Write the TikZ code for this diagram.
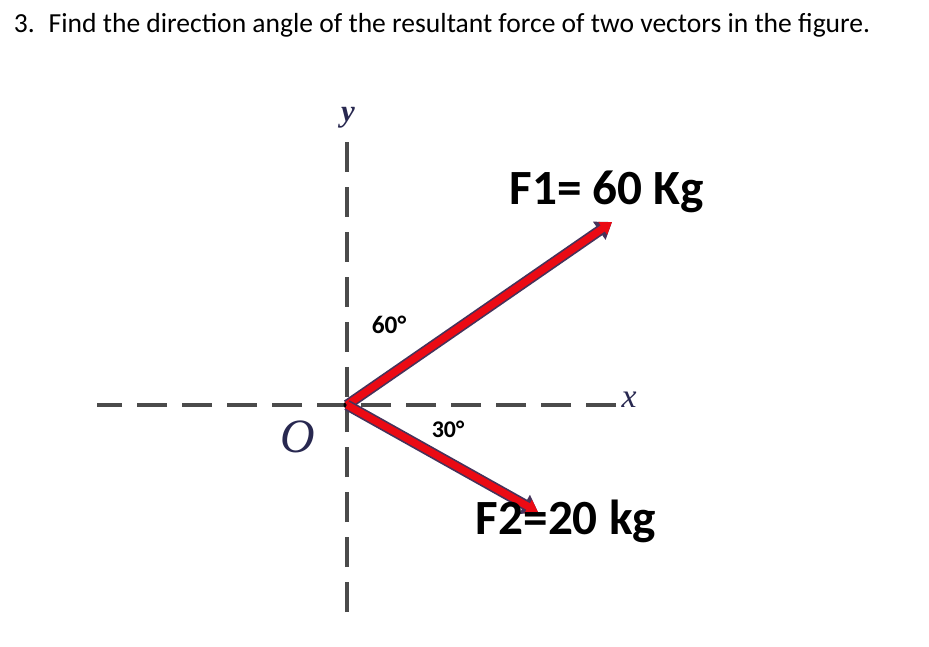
\documentclass[tikz,border=0pt]{standalone}
\usepackage{fontspec}
\setmainfont{Carlito}
\newfontfamily\axisfont{Liberation Serif}
\usetikzlibrary{arrows.meta}
\definecolor{axisgray}{RGB}{75,75,75}
\definecolor{labelnavy}{RGB}{40,40,80}
\definecolor{forcered}{RGB}{235,10,20}
\definecolor{forceedge}{RGB}{70,50,90}

\begin{document}
\begin{tikzpicture}[x=0.025cm,y=-0.025cm]
        \tikzstyle{axis}=[axisgray,line width=2.6pt,dash pattern=on 21pt off 11pt]
        \tikzstyle{forceedgeline}=[forceedge,line width=7.6pt,-{Triangle[length=11pt,width=15pt]}]
        \tikzstyle{forceline}=[forcered,line width=5.2pt,-{Triangle[length=8pt,width=10.5pt]}]
        \tikzstyle{axislabel}=[labelnavy,font=\fontsize{24}{26}\selectfont\axisfont\itshape]
        \tikzstyle{anglelabel}=[font=\fontsize{18}{20}\selectfont\bfseries]
        \tikzstyle{forcelabel}=[font=\fontsize{35}{37}\selectfont\bfseries]
        \useasboundingbox (0,0) rectangle (929,646);
        % title
        \node [anchor=west,font=\fontsize{19.6}{21}\selectfont] (title) at (9,25) {3.\enspace Find the direction angle of the resultant force of two vectors in the figure.};
        % axes
        \coordinate (O) at (347,405);
        \coordinate (ytop) at (347,142);
        \coordinate (ybot) at (347,612);
        \coordinate (xleft) at (97,405);
        \coordinate (xright) at (616,405);
        \draw [axis] (ytop) -- (O);
        \draw [axis] (ybot) -- (O);
        \draw [axis] (xright) -- (O);
        \draw [axis] (O) -- (xleft);
        \node [axislabel,font=\fontsize{22}{24}\selectfont\axisfont\itshape\bfseries] (ylab) at (348,118) {y};
        \node [axislabel] (xlab) at (629,400) {x};
        \node [axislabel,font=\fontsize{34}{36}\selectfont\axisfont\itshape] (olab) at (298,437) {O};
        \fill [black] (O) circle (2.5pt);
        % forces
        \coordinate (F1) at (612,222);
        \coordinate (F2) at (538,512);
        \draw [forceedgeline] (O) -- (F1);
        \draw [forceline] (O) -- (F1);
        \draw [forceedgeline] (O) -- (F2);
        \draw [forceline] (O) -- (F2);
        % labels
        \node [anglelabel] (a60) at (389,325) {60°};
        \node [anglelabel,font=\fontsize{17}{19}\selectfont\bfseries] (a30) at (448,429) {30°};
        \node [forcelabel] (f1lab) at (607,192) {F1= 60 Kg};
        \node [forcelabel] (f2lab) at (566,521) {F2=20 kg};
\end{tikzpicture}
\end{document}
